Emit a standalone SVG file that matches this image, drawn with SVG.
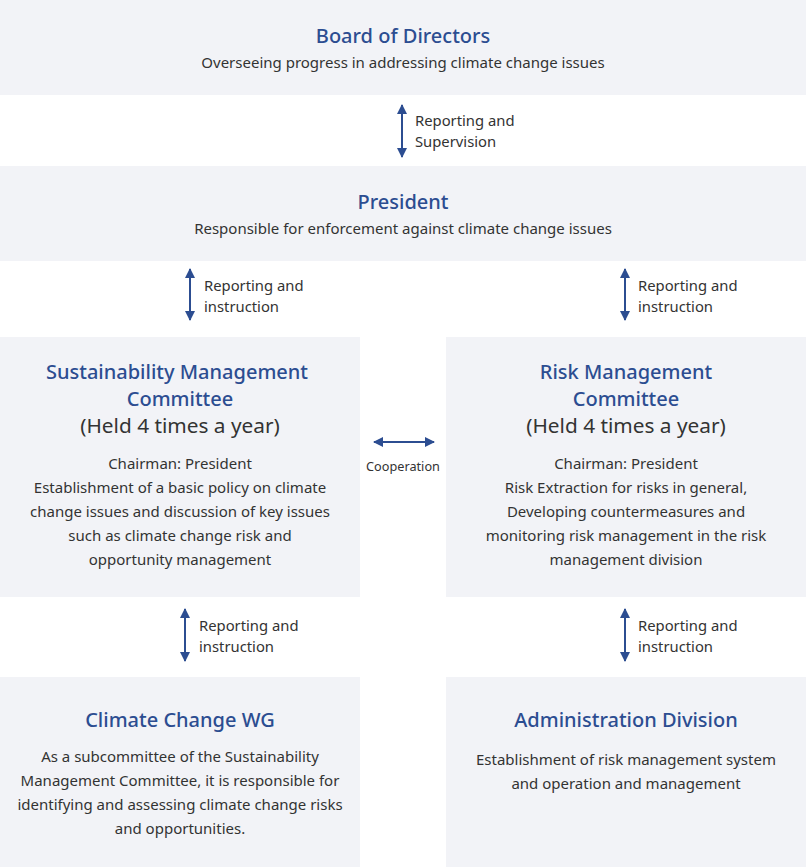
<svg xmlns="http://www.w3.org/2000/svg" width="806" height="867" viewBox="0 0 806 867">
<style>
.box{fill:#f2f3f7}
.t{font-family:"Noto Sans","Liberation Sans",sans-serif;font-size:20px;font-weight:500;fill:#2c4d91;text-anchor:middle}
.h{font-family:"Noto Sans","Liberation Sans",sans-serif;font-size:20.8px;fill:#333;text-anchor:middle}
.b{font-family:"Noto Sans","Liberation Sans",sans-serif;font-size:15px;fill:#333;text-anchor:middle}
.l{font-family:"Noto Sans","Liberation Sans",sans-serif;font-size:14.8px;fill:#333}
.s{font-family:"Noto Sans","Liberation Sans",sans-serif;font-size:12.7px;fill:#333;text-anchor:middle}
.a{stroke:#2c4d91;stroke-width:2;fill:none;marker-start:url(#m);marker-end:url(#m)}
</style>
<defs>
<marker id="m" viewBox="0 0 10 10" refX="9" refY="5" markerWidth="5" markerHeight="5" orient="auto-start-reverse" markerUnits="strokeWidth">
<path d="M0,0 L10,5 L0,10 z" fill="#2c4d91"/>
</marker>
</defs>
<rect width="806" height="867" fill="#fff"/>
<g id="board">
<rect class="box" x="0" y="0" width="806" height="95"/>
<text class="t" x="403" y="43">Board of Directors</text>
<text class="b" x="403" y="68">Overseeing progress in addressing climate change issues</text>
</g>
<g id="president">
<rect class="box" x="0" y="166" width="806" height="95"/>
<text class="t" x="403" y="209">President</text>
<text class="b" x="403" y="234">Responsible for enforcement against climate change issues</text>
</g>
<g id="smc">
<rect class="box" x="0" y="337" width="360" height="260"/>
<text class="t" x="177" y="379">Sustainability Management</text>
<text class="t" x="180" y="406">Committee</text>
<text class="h" x="180" y="433">(Held 4 times a year)</text>
<text class="b" x="180" y="469">Chairman: President</text>
<text class="b" x="180" y="493">Establishment of a basic policy on climate</text>
<text class="b" x="180" y="517">change issues and discussion of key issues</text>
<text class="b" x="180" y="541">such as climate change risk and</text>
<text class="b" x="180" y="565">opportunity management</text>
</g>
<g id="rmc">
<rect class="box" x="446" y="337" width="360" height="260"/>
<text class="t" x="626" y="379">Risk Management</text>
<text class="t" x="626" y="406">Committee</text>
<text class="h" x="626" y="433">(Held 4 times a year)</text>
<text class="b" x="626" y="469">Chairman: President</text>
<text class="b" x="626" y="493">Risk Extraction for risks in general,</text>
<text class="b" x="626" y="517">Developing countermeasures and</text>
<text class="b" x="626" y="541">monitoring risk management in the risk</text>
<text class="b" x="626" y="565">management division</text>
</g>
<g id="ccwg">
<rect class="box" x="0" y="677" width="360" height="190"/>
<text class="t" x="180" y="727">Climate Change WG</text>
<text class="b" x="180" y="762">As a subcommittee of the Sustainability</text>
<text class="b" x="180" y="786">Management Committee, it is responsible for</text>
<text class="b" x="180" y="810">identifying and assessing climate change risks</text>
<text class="b" x="180" y="834">and opportunities.</text>
</g>
<g id="admin">
<rect class="box" x="446" y="677" width="360" height="190"/>
<text class="t" x="626" y="727">Administration Division</text>
<text class="b" x="626" y="765">Establishment of risk management system</text>
<text class="b" x="626" y="789">and operation and management</text>
</g>
<g id="connectors">
<line class="a" x1="402" y1="105" x2="402" y2="157"/>
<text class="l" x="415" y="126">Reporting and</text>
<text class="l" x="415" y="147">Supervision</text>
<line class="a" x1="190" y1="269" x2="190" y2="320"/>
<text class="l" x="204" y="291">Reporting and</text>
<text class="l" x="204" y="312">instruction</text>
<line class="a" x1="625" y1="269" x2="625" y2="320"/>
<text class="l" x="638" y="291">Reporting and</text>
<text class="l" x="638" y="312">instruction</text>
<line class="a" x1="374" y1="442" x2="434" y2="442"/>
<text class="s" x="403" y="471">Cooperation</text>
<line class="a" x1="185" y1="609" x2="185" y2="661"/>
<text class="l" x="199" y="631">Reporting and</text>
<text class="l" x="199" y="652">instruction</text>
<line class="a" x1="625" y1="609" x2="625" y2="661"/>
<text class="l" x="638" y="631">Reporting and</text>
<text class="l" x="638" y="652">instruction</text>
</g>
</svg>
